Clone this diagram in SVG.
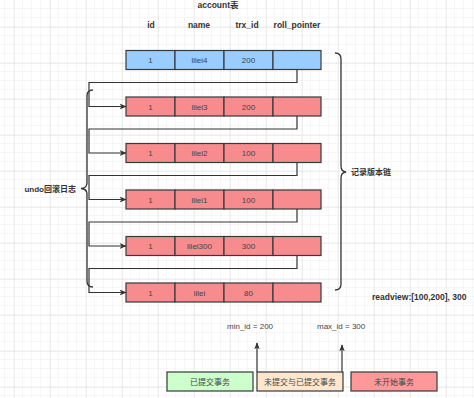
<svg xmlns="http://www.w3.org/2000/svg" width="474" height="398" viewBox="0 0 474 398">
<defs>
<pattern id="minor" x="5" y="9" width="9" height="9" patternUnits="userSpaceOnUse"><path d="M9 0V9M0 9H9" fill="none" stroke="#eeeeee" stroke-width="1"/></pattern>
<pattern id="major" x="14" y="27" width="36" height="36" patternUnits="userSpaceOnUse"><path d="M0 0V36M0 0H36" fill="none" stroke="#dedede" stroke-width="1"/></pattern>
<marker id="arr" viewBox="0 0 10 10" refX="9" refY="5" markerWidth="7" markerHeight="7" orient="auto" markerUnits="userSpaceOnUse"><path d="M0,1 L10,5 L0,9 L2.5,5 Z" fill="#333"/></marker>
</defs>
<style>
text{font-family:"Liberation Sans","Noto Sans CJK SC",sans-serif;fill:#333;}
.cell{stroke:#36393d;stroke-width:1.2;}
.blue{fill:#99ccff;}
.red{fill:#f88b8d;}
.c{font-size:8px;text-anchor:middle;fill:#444;}
.h{font-size:8.5px;font-weight:bold;text-anchor:middle;}
.conn{fill:none;stroke:#333;stroke-width:1.2;}
.br{fill:none;stroke:#333;stroke-width:1.3;}
</style>
<rect width="474" height="398" fill="#fff"/>
<rect width="474" height="398" fill="url(#minor)"/>
<rect width="474" height="398" fill="url(#major)"/>

<g id="headers">
<text class="h" x="218" y="8">account表</text>
<text class="h" x="151" y="28">id</text>
<text class="h" x="199" y="28">name</text>
<text class="h" x="247" y="28">trx_id</text>
<text class="h" x="297" y="28">roll_pointer</text>
</g>

<g id="row-lilei4">
<rect class="cell blue" x="126" y="50.5" width="49" height="19"/>
<rect class="cell blue" x="175" y="50.5" width="49" height="19"/>
<rect class="cell blue" x="224" y="50.5" width="49" height="19"/>
<rect class="cell blue" x="273" y="50.5" width="48" height="19"/>
<text class="c" x="150.5" y="63">1</text><text class="c" x="199.5" y="63">lilei4</text><text class="c" x="248.5" y="63">200</text>
</g>
<g id="row-lilei3">
<rect class="cell red" x="126" y="97" width="49" height="19"/>
<rect class="cell red" x="175" y="97" width="49" height="19"/>
<rect class="cell red" x="224" y="97" width="49" height="19"/>
<rect class="cell red" x="273" y="97" width="48" height="19"/>
<text class="c" x="150.5" y="109.5">1</text><text class="c" x="199.5" y="109.5">lilei3</text><text class="c" x="248.5" y="109.5">200</text>
</g>
<g id="row-lilei2">
<rect class="cell red" x="126" y="143.5" width="49" height="19"/>
<rect class="cell red" x="175" y="143.5" width="49" height="19"/>
<rect class="cell red" x="224" y="143.5" width="49" height="19"/>
<rect class="cell red" x="273" y="143.5" width="48" height="19"/>
<text class="c" x="150.5" y="156">1</text><text class="c" x="199.5" y="156">lilei2</text><text class="c" x="248.5" y="156">100</text>
</g>
<g id="row-lilei1">
<rect class="cell red" x="126" y="190" width="49" height="19"/>
<rect class="cell red" x="175" y="190" width="49" height="19"/>
<rect class="cell red" x="224" y="190" width="49" height="19"/>
<rect class="cell red" x="273" y="190" width="48" height="19"/>
<text class="c" x="150.5" y="202.5">1</text><text class="c" x="199.5" y="202.5">lilei1</text><text class="c" x="248.5" y="202.5">100</text>
</g>
<g id="row-lilei300">
<rect class="cell red" x="126" y="236.5" width="49" height="19"/>
<rect class="cell red" x="175" y="236.5" width="49" height="19"/>
<rect class="cell red" x="224" y="236.5" width="49" height="19"/>
<rect class="cell red" x="273" y="236.5" width="48" height="19"/>
<text class="c" x="150.5" y="249">1</text><text class="c" x="199.5" y="249">lilei300</text><text class="c" x="248.5" y="249">300</text>
</g>
<g id="row-lilei">
<rect class="cell red" x="126" y="283" width="49" height="19"/>
<rect class="cell red" x="175" y="283" width="49" height="19"/>
<rect class="cell red" x="224" y="283" width="49" height="19"/>
<rect class="cell red" x="273" y="283" width="48" height="19"/>
<text class="c" x="150.5" y="295.5">1</text><text class="c" x="199.5" y="295.5">lilei</text><text class="c" x="248.5" y="295.5">80</text>
</g>

<g id="connectors">
<path class="conn" marker-end="url(#arr)" d="M297,69.5 V82.5 H89 V106.5 H126"/>
<path class="conn" marker-end="url(#arr)" d="M297,116 V129 H89 V153 H126"/>
<path class="conn" marker-end="url(#arr)" d="M297,162.5 V175.5 H89 V199.5 H126"/>
<path class="conn" marker-end="url(#arr)" d="M297,209 V222 H89 V246 H126"/>
<path class="conn" marker-end="url(#arr)" d="M297,255.5 V268.5 H89 V292.5 H126"/>
<path class="conn" marker-end="url(#arr)" d="M257,372 V343"/>
<path class="conn" marker-end="url(#arr)" d="M342,372 V345"/>
</g>

<g id="undo-brace">
<path class="br" d="M93,90 Q87,90 87,96 L87,183 Q87,188 81,188.5 Q87,189 87,194 L87,281 Q87,287 93,287"/>
<text x="76" y="191.5" style="font-size:8px;font-weight:bold;text-anchor:end">undo回滚日志</text>
</g>
<g id="version-brace">
<path class="br" d="M335,53 Q341,53 341,59 L341,166 Q341,171.5 346,172 Q341,172.5 341,178 L341,284 Q341,290 335,290"/>
<text x="351" y="175" style="font-size:8px;font-weight:bold">记录版本链</text>
</g>

<g id="readview">
<text x="372" y="300" style="font-size:8.5px;font-weight:bold">readview:[100,200], 300</text>
<text x="227" y="329" style="font-size:8px;fill:#444">min_id = 200</text>
<text x="317" y="329" style="font-size:8px;fill:#444">max_id = 300</text>
</g>

<g id="committed">
<rect x="167" y="372" width="86" height="19" fill="#ccffcc" stroke="#36393d" stroke-width="1.2"/>
<text class="c" x="210" y="384.5">已提交事务</text>
</g>
<g id="mixed">
<rect x="257" y="372" width="86" height="19" fill="#ffe6cc" stroke="#36393d" stroke-width="1.2"/>
<text class="c" x="300" y="384.5">未提交与已提交事务</text>
</g>
<g id="notstarted">
<rect x="351" y="372" width="86" height="19" fill="#ff9999" stroke="#36393d" stroke-width="1.2"/>
<text class="c" x="394" y="384.5">未开始事务</text>
</g>
</svg>
